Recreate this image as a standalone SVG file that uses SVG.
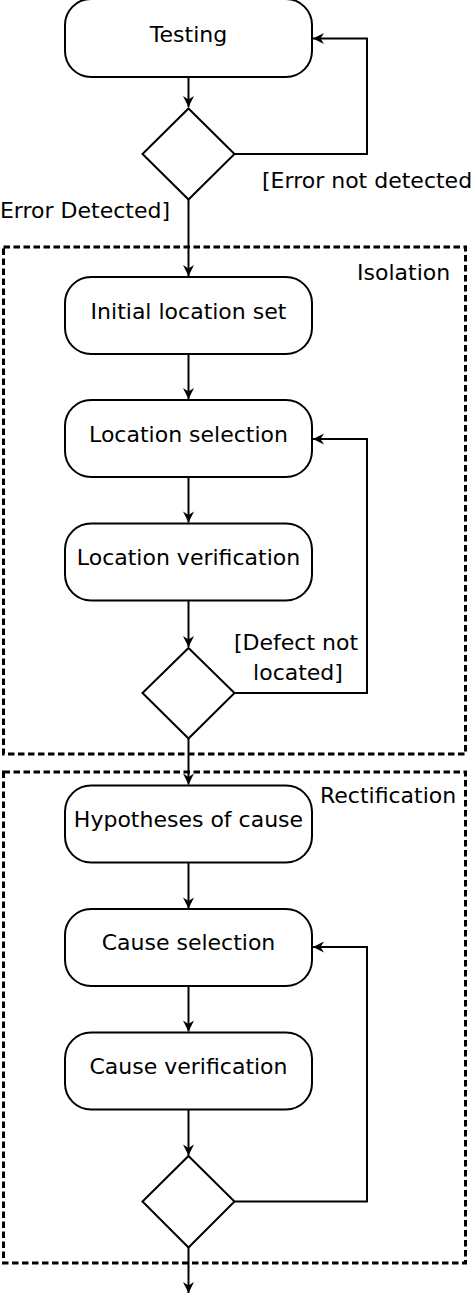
<svg xmlns="http://www.w3.org/2000/svg" width="474" height="1294" viewBox="0 0 474 1294">
<style>
  .node rect { fill: #fff; stroke: #000; stroke-width: 2; }
  .node polygon { fill: #fff; stroke: #000; stroke-width: 2; }
  text { font-family: "DejaVu Sans", "Liberation Sans", sans-serif; font-size: 22px; fill: #000; }
  .c { text-anchor: middle; }
  .edge { fill: none; stroke: #000; stroke-width: 2; }
  .frame { fill: none; stroke: #000; stroke-width: 3; stroke-dasharray: 6.5 3.5; }
</style>
<defs>
  <marker id="arr" viewBox="-12 -7 14 14" refX="0" refY="0" markerWidth="14" markerHeight="14" markerUnits="userSpaceOnUse" orient="auto">
    <path d="M0,0 L-11,-5.5 L-7.5,0 L-11,5.5 Z" fill="#000"/>
  </marker>
</defs>
<rect width="474" height="1294" fill="#fff"/>

<g id="isolation">
  <rect class="frame" x="3.5" y="247" width="462" height="507"/>
  <text x="357" y="280">Isolation</text>
</g>
<g id="rectification">
  <rect class="frame" x="3.5" y="772" width="462" height="491"/>
  <text x="320" y="803">Rectification</text>
</g>

<g id="connectors">
  <path class="edge" d="M188.5,77 V107" marker-end="url(#arr)"/>
  <path class="edge" d="M234.5,154 H367 V38.5 H313" marker-end="url(#arr)"/>
  <path class="edge" d="M188.5,199.5 V276" marker-end="url(#arr)"/>
  <path class="edge" d="M188.5,354 V399" marker-end="url(#arr)"/>
  <path class="edge" d="M188.5,477 V522.5" marker-end="url(#arr)"/>
  <path class="edge" d="M188.5,600.5 V647" marker-end="url(#arr)"/>
  <path class="edge" d="M234.5,693 H367 V439 H313" marker-end="url(#arr)"/>
  <path class="edge" d="M188.5,738.5 V784.5" marker-end="url(#arr)"/>
  <path class="edge" d="M188.5,862.5 V908.5" marker-end="url(#arr)"/>
  <path class="edge" d="M188.5,985.5 V1031.5" marker-end="url(#arr)"/>
  <path class="edge" d="M188.5,1109 V1155.5" marker-end="url(#arr)"/>
  <path class="edge" d="M234.5,1201.5 H367 V947 H313" marker-end="url(#arr)"/>
  <path class="edge" d="M188.5,1247.5 V1293" marker-end="url(#arr)"/>
  <text x="262" y="188">[Error not detected]</text>
  <text x="170" y="218" text-anchor="end">[Error Detected]</text>
  <text x="296" y="650" class="c">[Defect not</text>
  <text x="298" y="680" class="c">located]</text>
</g>

<g id="testing" class="node">
  <rect x="65" y="-1" width="247" height="78" rx="26"/>
  <text x="188.5" y="42" class="c">Testing</text>
</g>
<g id="decision1" class="node">
  <polygon points="188.5,108.5 234.5,154 188.5,199.5 142.5,154"/>
</g>
<g id="initial-location-set" class="node">
  <rect x="65" y="277" width="247" height="77" rx="26"/>
  <text x="188.5" y="318.5" class="c">Initial location set</text>
</g>
<g id="location-selection" class="node">
  <rect x="65" y="400" width="247" height="77" rx="26"/>
  <text x="188.5" y="442" class="c">Location selection</text>
</g>
<g id="location-verification" class="node">
  <rect x="65" y="523.5" width="247" height="77" rx="26"/>
  <text x="188.5" y="565" class="c">Location verification</text>
</g>
<g id="decision2" class="node">
  <polygon points="188.5,648 234.5,693 188.5,738.5 142.5,693"/>
</g>
<g id="hypotheses-of-cause" class="node">
  <rect x="65" y="785.5" width="247" height="77" rx="26"/>
  <text x="188.5" y="827" class="c">Hypotheses of cause</text>
</g>
<g id="cause-selection" class="node">
  <rect x="65" y="909" width="247" height="77" rx="26"/>
  <text x="188.5" y="950" class="c">Cause selection</text>
</g>
<g id="cause-verification" class="node">
  <rect x="65" y="1032.5" width="247" height="77" rx="26"/>
  <text x="188.5" y="1073.5" class="c">Cause verification</text>
</g>
<g id="decision3" class="node">
  <polygon points="188.5,1156 234.5,1201.5 188.5,1247.5 142.5,1201.5"/>
</g>
</svg>
